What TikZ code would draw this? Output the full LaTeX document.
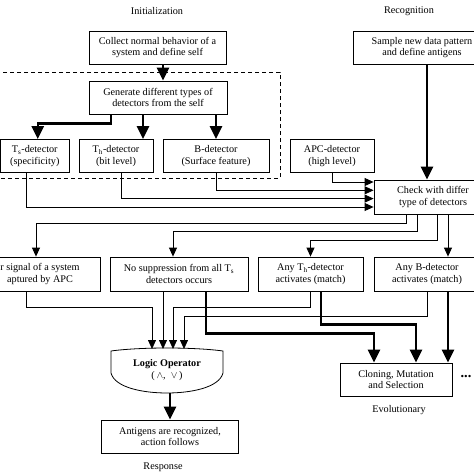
\documentclass[tikz,border=0pt]{standalone}
\usepackage{fontspec}
\setmainfont{Liberation Serif}
\usetikzlibrary{arrows.meta, positioning}

\begin{document}
\begin{tikzpicture}[
    x=1pt, y=-1pt,
    >=Stealth,
    block/.style={draw, line width=0.8pt, minimum height=33pt, inner sep=2pt, align=center, font=\fontsize{10.2}{11.7}\selectfont},
    flow/.style={line width=0.8pt, -{Triangle[length=9pt, width=8pt]}},
    bigflow/.style={line width=2.4pt, -{Triangle[length=13pt, width=12pt]}},
    title/.style={font=\fontsize{10.2}{11.7}\selectfont},
    frame/.style={draw, line width=0.8pt, dash pattern=on 4pt off 3pt}
]

% Page frame
\clip (0,0) rectangle (474,474);

% Stage titles
\node[title] (init) at (157,11) {Initialization};
\node[title] (recog) at (409,11) {Recognition};
\node[title] (resp) at (163,467) {Response};
\node[title] (evol) at (399,410) {Evolutionary};

% Initialization boxes
\node[block, minimum width=137pt] (collect) at (157.5,47.5) {Collect normal behavior of a\\system and define self};
\node[block, minimum width=138pt] (generate) at (158,97.5) {Generate different types of\\detectors from the self};
\node[block, minimum width=68.5pt] (tsdet) at (34.75,156) {T\textsubscript{s}-detector\\(specificity)};
\node[block, minimum width=74pt] (thdet) at (116,156) {T\textsubscript{h}-detector\\(bit level)};
\node[block, minimum width=106pt] (bdet) at (216,156) {B-detector\\(Surface feature)};
\node[block, minimum width=84pt] (apcdet) at (332,156) {APC-detector\\(high level)};

% Dashed group round the self detectors
\draw[frame] (-5,72) rectangle (280,178);

% Recognition boxes
\node[block, minimum width=138pt] (sample) at (422,47.5) {Sample new data pattern\\and define antigens};
\node[block, minimum width=118pt, minimum height=34pt] (check) at (433,197) {Check with differ\\type of detectors};

% Signal boxes
\node[block, minimum width=120pt, minimum height=34pt] (danger) at (40,274) {r signal of a system\\aptured by APC};
\node[block, minimum width=138pt, minimum height=34pt] (nosupp) at (179,274) {No suppression from all T\textsubscript{s}\\detectors occurs};
\node[block, minimum width=105pt, minimum height=34pt] (anyth) at (310.5,274) {Any T\textsubscript{h}-detector\\activates (match)};
\node[block, minimum width=106pt, minimum height=34pt] (anyb) at (427,274) {Any B-detector\\activates (match)};

% Logic operator
\draw[line width=0.8pt] (111,351) .. controls (140,347) and (194,347) .. (223,351)
    -- (223,373) .. controls (219,388) and (190,393) .. (167,393)
    .. controls (144,393) and (115,388) .. (111,373) -- cycle;
\node[title, align=center] (logic) at (167,370) {\textbf{Logic Operator}\\(\,$\wedge$,\enspace$\vee$\,)};
\coordinate (in1) at (152,349);
\coordinate (in2) at (163,349);
\coordinate (in3) at (173,349);
\coordinate (in4) at (184,349);
\coordinate (logout) at (170,393);

% Response and evolution
\node[block, minimum width=137pt] (antigens) at (170,436.5) {Antigens are recognized,\\action follows};
\node[block, minimum width=112pt] (cloning) at (396,379.5) {Cloning, Mutation\\and Selection};
\node[font=\Large\bfseries] (more) at (466,377) {...};

% Initialization arrows
\draw[bigflow] ([xshift=5.5pt]collect.south) -- ([xshift=5.5pt]collect.south |- generate.north);
\draw[bigflow] ([xshift=-47pt]generate.south) -- ++(0,9) -| ([xshift=3pt]tsdet.north);
\draw[bigflow] ([xshift=-15pt]generate.south) -- ([xshift=-15pt]generate.south |- thdet.north);
\draw[bigflow] (bdet.north |- generate.south) -- (bdet.north);
\draw[bigflow] ([xshift=5pt]sample.south) -- ([xshift=5pt]sample.south |- check.north);

% Detectors into the check
\draw[flow] (apcdet.south) |- ([yshift=15pt]check.west);
\draw[flow] (bdet.south) |- ([yshift=6.7pt]check.west);
\draw[flow] ([xshift=5pt]thdet.south) |- ([yshift=-1.6pt]check.west);
\draw[flow] ([xshift=-8.75pt]tsdet.south) |- ([yshift=-10pt]check.west);

% Check out to the signals
\draw[flow] ([xshift=-27pt]check.south) -- ++(0,9) -| ([xshift=-4pt]danger.north);
\draw[flow] ([xshift=-16pt]check.south) -- ++(0,17) -| ([xshift=-6pt]nosupp.north);
\draw[flow] ([xshift=4pt]check.south) -- ++(0,26) -| (anyth.north);
\draw[flow] ([xshift=15pt]check.south) -- ([xshift=15pt]check.south |- anyb.north);

% Signals into the logic operator
\draw[flow] ([xshift=-14pt]danger.south) -- ++(0,16) -| (in1);
\draw[flow] ([xshift=-16pt]nosupp.south) -- (in2);
\draw[flow] (anyth.south) -- ++(0,16) -| (in3);
\draw[flow] (anyb.south) -- ++(0,25) -| (in4);

% Signals into cloning
\draw[bigflow] ([xshift=27pt]nosupp.south) -- ++(0,42) -| ([xshift=-22pt]cloning.north);
\draw[bigflow] ([xshift=10.5pt]anyth.south) -- ++(0,33) -| ([xshift=20pt]cloning.north);
\draw[bigflow] ([xshift=21pt]anyb.south) -- ([xshift=21pt]anyb.south |- cloning.north);

% Response
\draw[bigflow] (logout) -- (antigens.north);

\end{tikzpicture}
\end{document}
